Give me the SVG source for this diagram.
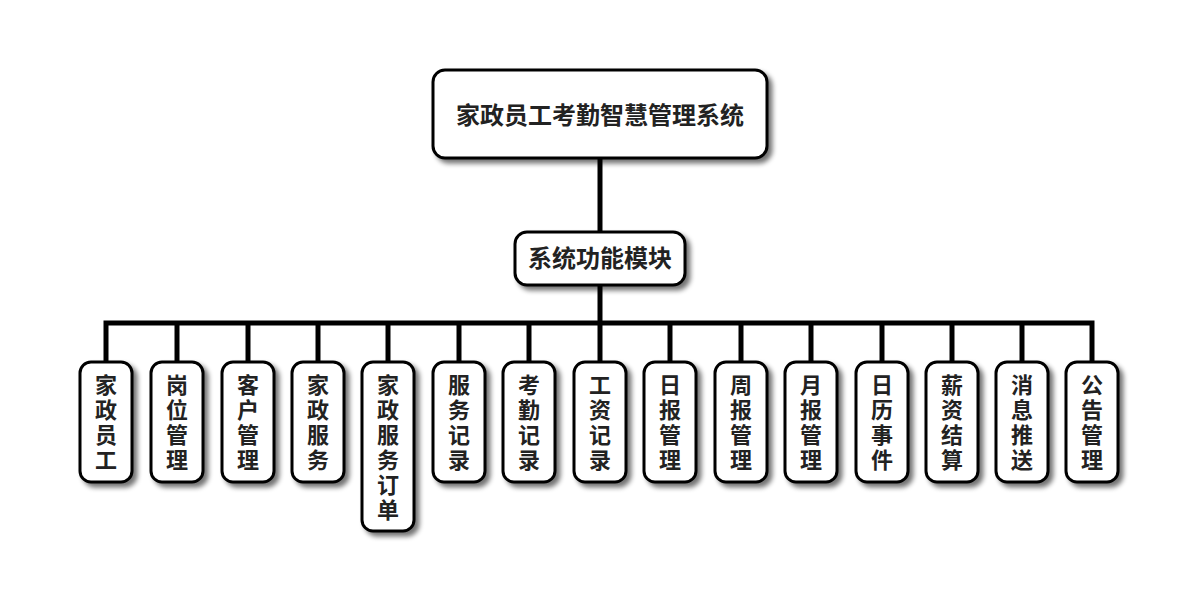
<svg xmlns="http://www.w3.org/2000/svg" width="1198" height="607" viewBox="0 0 1198 607">
<defs>
<filter id="sh" x="-30%" y="-30%" width="160%" height="160%">
<feGaussianBlur in="SourceAlpha" stdDeviation="2.5"/>
<feOffset dx="4" dy="4" result="b"/>
<feComponentTransfer><feFuncA type="linear" slope="0.55"/></feComponentTransfer>
<feMerge><feMergeNode/><feMergeNode in="SourceGraphic"/></feMerge>
</filter>
</defs>
<style>
.box{fill:#fff;stroke:#000;stroke-width:3;filter:url(#sh)}
.t{font-family:"Noto Sans CJK SC","Noto Sans",sans-serif;font-weight:bold;fill:#222;text-anchor:middle}
.lf{font-size:22px}
.ln{stroke:#000;stroke-width:5;fill:none}
</style>
<rect width="1198" height="607" fill="#fff"/>
<g id="connectors">
<line class="ln" x1="600" y1="158" x2="600" y2="232"/>
<line class="ln" x1="600" y1="285" x2="600" y2="323"/>
<polyline class="ln" points="106,362 106,323 1092,323 1092,362"/>
<line class="ln" x1="177" y1="323" x2="177" y2="362"/>
<line class="ln" x1="248" y1="323" x2="248" y2="362"/>
<line class="ln" x1="318" y1="323" x2="318" y2="362"/>
<line class="ln" x1="388" y1="323" x2="388" y2="362"/>
<line class="ln" x1="459" y1="323" x2="459" y2="362"/>
<line class="ln" x1="529" y1="323" x2="529" y2="362"/>
<line class="ln" x1="600" y1="323" x2="600" y2="362"/>
<line class="ln" x1="670" y1="323" x2="670" y2="362"/>
<line class="ln" x1="741" y1="323" x2="741" y2="362"/>
<line class="ln" x1="811" y1="323" x2="811" y2="362"/>
<line class="ln" x1="882" y1="323" x2="882" y2="362"/>
<line class="ln" x1="952" y1="323" x2="952" y2="362"/>
<line class="ln" x1="1022" y1="323" x2="1022" y2="362"/>
</g>
<g id="root"><rect class="box" x="433" y="70" width="334" height="88" rx="12"/><text class="t" x="600" y="124" font-size="24">家政员工考勤智慧管理系统</text></g>
<g id="modules"><rect class="box" x="515" y="232" width="170" height="53" rx="12"/><text class="t" x="600" y="267" font-size="24">系统功能模块</text></g>
<g id="n1"><rect class="box" x="80" y="362" width="52" height="120" rx="11"/><text class="t lf"><tspan x="106" y="393">家</tspan><tspan x="106" dy="25">政</tspan><tspan x="106" dy="25">员</tspan><tspan x="106" dy="25">工</tspan></text></g>
<g id="n2"><rect class="box" x="151" y="362" width="52" height="120" rx="11"/><text class="t lf"><tspan x="177" y="393">岗</tspan><tspan x="177" dy="25">位</tspan><tspan x="177" dy="25">管</tspan><tspan x="177" dy="25">理</tspan></text></g>
<g id="n3"><rect class="box" x="222" y="362" width="52" height="120" rx="11"/><text class="t lf"><tspan x="248" y="393">客</tspan><tspan x="248" dy="25">户</tspan><tspan x="248" dy="25">管</tspan><tspan x="248" dy="25">理</tspan></text></g>
<g id="n4"><rect class="box" x="292" y="362" width="52" height="120" rx="11"/><text class="t lf"><tspan x="318" y="393">家</tspan><tspan x="318" dy="25">政</tspan><tspan x="318" dy="25">服</tspan><tspan x="318" dy="25">务</tspan></text></g>
<g id="n5"><rect class="box" x="362" y="362" width="52" height="169" rx="11"/><text class="t lf"><tspan x="388" y="393">家</tspan><tspan x="388" dy="25">政</tspan><tspan x="388" dy="25">服</tspan><tspan x="388" dy="25">务</tspan><tspan x="388" dy="25">订</tspan><tspan x="388" dy="25">单</tspan></text></g>
<g id="n6"><rect class="box" x="433" y="362" width="52" height="120" rx="11"/><text class="t lf"><tspan x="459" y="393">服</tspan><tspan x="459" dy="25">务</tspan><tspan x="459" dy="25">记</tspan><tspan x="459" dy="25">录</tspan></text></g>
<g id="n7"><rect class="box" x="503" y="362" width="52" height="120" rx="11"/><text class="t lf"><tspan x="529" y="393">考</tspan><tspan x="529" dy="25">勤</tspan><tspan x="529" dy="25">记</tspan><tspan x="529" dy="25">录</tspan></text></g>
<g id="n8"><rect class="box" x="574" y="362" width="52" height="120" rx="11"/><text class="t lf"><tspan x="600" y="393">工</tspan><tspan x="600" dy="25">资</tspan><tspan x="600" dy="25">记</tspan><tspan x="600" dy="25">录</tspan></text></g>
<g id="n9"><rect class="box" x="644" y="362" width="52" height="120" rx="11"/><text class="t lf"><tspan x="670" y="393">日</tspan><tspan x="670" dy="25">报</tspan><tspan x="670" dy="25">管</tspan><tspan x="670" dy="25">理</tspan></text></g>
<g id="n10"><rect class="box" x="715" y="362" width="52" height="120" rx="11"/><text class="t lf"><tspan x="741" y="393">周</tspan><tspan x="741" dy="25">报</tspan><tspan x="741" dy="25">管</tspan><tspan x="741" dy="25">理</tspan></text></g>
<g id="n11"><rect class="box" x="785" y="362" width="52" height="120" rx="11"/><text class="t lf"><tspan x="811" y="393">月</tspan><tspan x="811" dy="25">报</tspan><tspan x="811" dy="25">管</tspan><tspan x="811" dy="25">理</tspan></text></g>
<g id="n12"><rect class="box" x="856" y="362" width="52" height="120" rx="11"/><text class="t lf"><tspan x="882" y="393">日</tspan><tspan x="882" dy="25">历</tspan><tspan x="882" dy="25">事</tspan><tspan x="882" dy="25">件</tspan></text></g>
<g id="n13"><rect class="box" x="926" y="362" width="52" height="120" rx="11"/><text class="t lf"><tspan x="952" y="393">薪</tspan><tspan x="952" dy="25">资</tspan><tspan x="952" dy="25">结</tspan><tspan x="952" dy="25">算</tspan></text></g>
<g id="n14"><rect class="box" x="996" y="362" width="52" height="120" rx="11"/><text class="t lf"><tspan x="1022" y="393">消</tspan><tspan x="1022" dy="25">息</tspan><tspan x="1022" dy="25">推</tspan><tspan x="1022" dy="25">送</tspan></text></g>
<g id="n15"><rect class="box" x="1066" y="362" width="52" height="120" rx="11"/><text class="t lf"><tspan x="1092" y="393">公</tspan><tspan x="1092" dy="25">告</tspan><tspan x="1092" dy="25">管</tspan><tspan x="1092" dy="25">理</tspan></text></g>
</svg>
